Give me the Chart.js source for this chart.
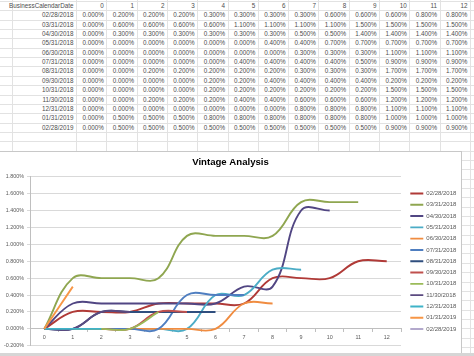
<!DOCTYPE html>
<html><head><meta charset="utf-8">
<script src="https://cdn.jsdelivr.net/npm/chart.js@4.4.1/dist/chart.umd.min.js"></script>
<style>
html,body{margin:0;padding:0;}
body{width:474px;height:356px;overflow:hidden;position:relative;background:#fff;font-family:'Liberation Sans',Arial,sans-serif;}
.h{position:absolute;left:0;width:474px;height:1px;background:#e2e2e2;}
.v{position:absolute;top:0;width:1px;height:356px;background:#e2e2e2;}
.c{position:absolute;height:9.35px;line-height:9.35px;font-size:6.3px;color:#4d4d4d;text-align:right;white-space:nowrap;}
#box{position:absolute;left:0;top:151px;width:461px;height:201px;background:#fff;border-top:1px solid #c8c8c8;border-right:1px solid #c8c8c8;border-bottom:1px solid #c8c8c8;}
#cv{position:absolute;left:0;top:0;}
#band{position:absolute;left:0;top:353px;width:474px;height:3px;background:#d6d6d6;}
</style></head><body>
<div id="sheet"></div>
<div id="box"><canvas id="cv" width="461" height="200"></canvas></div>
<div id="band"></div>
<script>
// ---- data ----
const headerLabel = 'BusinessCalendarDate';
const periods = ['0','1','2','3','4','5','6','7','8','9','10','11','12'];
const dates = ['02/28/2018','03/31/2018','04/30/2018','05/31/2018','06/30/2018','07/31/2018','08/31/2018','09/30/2018','10/31/2018','11/30/2018','12/31/2018','01/31/2019','02/28/2019'];
const v20180228 = [0,0.2,0.2,0.2,0.3,0.3,0.3,0.3,0.6,0.6,0.6,0.8,0.8];
const v20180331 = [0,0.6,0.6,0.6,0.6,1.1,1.1,1.1,1.1,1.5,1.5,1.5,1.5];
const v20180430 = [0,0.3,0.3,0.3,0.3,0.3,0.3,0.5,0.5,1.4,1.4,1.4,1.4];
const v20180531 = [0,0,0,0,0,0,0.4,0.4,0.7,0.7,0.7,0.7,0.7];
const v20180630 = [0,0,0,0,0,0,0,0.3,0.3,0.3,1.1,1.1,1.1];
const v20180731 = [0,0,0,0,0,0.4,0.4,0.4,0.4,0.5,0.9,0.9,0.9];
const v20180831 = [0,0,0.2,0.2,0.2,0.2,0.2,0.3,0.3,0.3,1.7,1.7,1.7];
const v20180930 = [0,0,0,0,0.2,0.2,0.4,0.4,0.4,0.4,0.2,0.2,0.2];
const v20181031 = [0,0,0,0,0.2,0.2,0.2,0.2,0.2,0.2,1.5,1.5,1.5];
const v20181130 = [0,0,0.2,0.2,0.2,0.4,0.4,0.6,0.6,0.6,1.2,1.2,1.2];
const v20181231 = [0,0,0,0,0,0,0,0.8,0.8,0.8,1.1,1.1,1.1];
const v20190131 = [0,0.5,0.5,0.5,0.8,0.8,0.8,0.8,0.8,0.8,1.0,1.0,1.0];
const v20190228 = [0,0.5,0.5,0.5,0.5,0.5,0.5,0.5,0.5,0.5,0.9,0.9,0.9];
// months of observed performance per vintage (shown in chart)
const observed = [13,12,11,10,9,8,7,6,5,4,3,2,1];
const rows = [v20180228,v20180331,v20180430,v20180531,v20180630,v20180731,v20180831,v20180930,v20181031,v20181130,v20181231,v20190131,v20190228];
const colors = ['#b03a37','#8fa650','#514683','#4bacc6','#f08c40','#4f7ec0','#2f4e7e','#c0504d','#9bbb59','#5b4a80','#3fb3c8','#f79646','#b3a9cc'];

// ---- spreadsheet ----
const sheet = document.getElementById('sheet');
const rowH = 9.35, rowTop0 = 1;
const colB = [12, 76];
for (let k = 1; k <= 14; k++) colB.push(76 + 30.3 * k);
for (let r = 0; r < 40; r++) {
  const d = document.createElement('div'); d.className = 'h';
  d.style.top = (rowTop0 + r * rowH) + 'px'; sheet.appendChild(d);
}
colB.forEach(x => { const d = document.createElement('div'); d.className = 'v'; d.style.left = x + 'px'; sheet.appendChild(d); });
function cell(r, c, txt) {
  const d = document.createElement('div'); d.className = 'c';
  d.style.left = (colB[c] - 40) + 'px';
  d.style.width = (colB[c + 1] - colB[c] + 40 - 2.5) + 'px';
  d.style.top = (rowTop0 + r * rowH) + 'px';
  d.textContent = txt; sheet.appendChild(d);
}
cell(0, 0, headerLabel);
periods.forEach((p, j) => cell(0, j + 1, p));
rows.forEach((row, i) => {
  cell(i + 1, 0, dates[i]);
  row.forEach((v, j) => cell(i + 1, j + 1, v.toFixed(3) + '%'));
});

// ---- chart ----
Chart.defaults.font.family = "'Liberation Sans', Arial, sans-serif";
const datasets = rows.map((row, i) => ({
  label: dates[i],
  data: row.slice(0, observed[i]),
  borderColor: colors[i],
  backgroundColor: colors[i],
  borderWidth: 1.9,
  pointRadius: 0,
  pointHoverRadius: 0,
  tension: 0.4,
  fill: false,
  order: rows.length - i,
  yAxisID: 'y'
}));
new Chart(document.getElementById('cv'), {
  type: 'line',
  data: { labels: periods, datasets },
  options: {
    responsive: false,
    animation: false,
    layout: { padding: { left: 0, right: 0, top: 0, bottom: 4.7 } },
    plugins: {
      tooltip: { enabled: false },
      title: {
        display: true, text: 'Vintage Analysis', color: '#000',
        font: { size: 9.6, weight: 'bold' },
        padding: { top: 4.5, bottom: 8.7 }
      },
      legend: {
        display: true, position: 'right', fullSize: false, align: 'center', maxWidth: 56,
        labels: {
          usePointStyle: true, pointStyle: 'line', pointStyleWidth: 13, boxHeight: 6,
          padding: 5.3, color: '#595959', font: { size: 6 },
          sort: (a, b) => a.datasetIndex - b.datasetIndex
        }
      }
    },
    scales: {
      x: {
        type: 'category', offset: true, position: { y: 0 },
        grid: { display: true, drawOnChartArea: false, drawTicks: true, tickLength: 3, offset: true, color: '#bfbfbf' },
        border: { display: true, color: '#bfbfbf' },
        ticks: { color: '#595959', font: { size: 5.4 }, padding: 2, maxRotation: 0, autoSkip: false }
      },
      y: {
        type: 'linear', position: 'left', min: -0.2, max: 1.8,
        afterFit: s => { s.width = 30; },
        grid: { color: '#d9d9d9', drawTicks: true, tickLength: 3 },
        border: { display: true, color: '#bfbfbf' },
        ticks: { stepSize: 0.2, color: '#595959', font: { size: 5.4 }, padding: 3,
          callback: v => Number(v).toFixed(3) + '%' }
      },
      spacer: {
        type: 'linear', position: 'right', display: true,
        afterFit: s => { s.width = 4; },
        grid: { display: false, drawTicks: false },
        border: { display: false },
        ticks: { display: false }
      }
    }
  }
});
</script></body></html>
